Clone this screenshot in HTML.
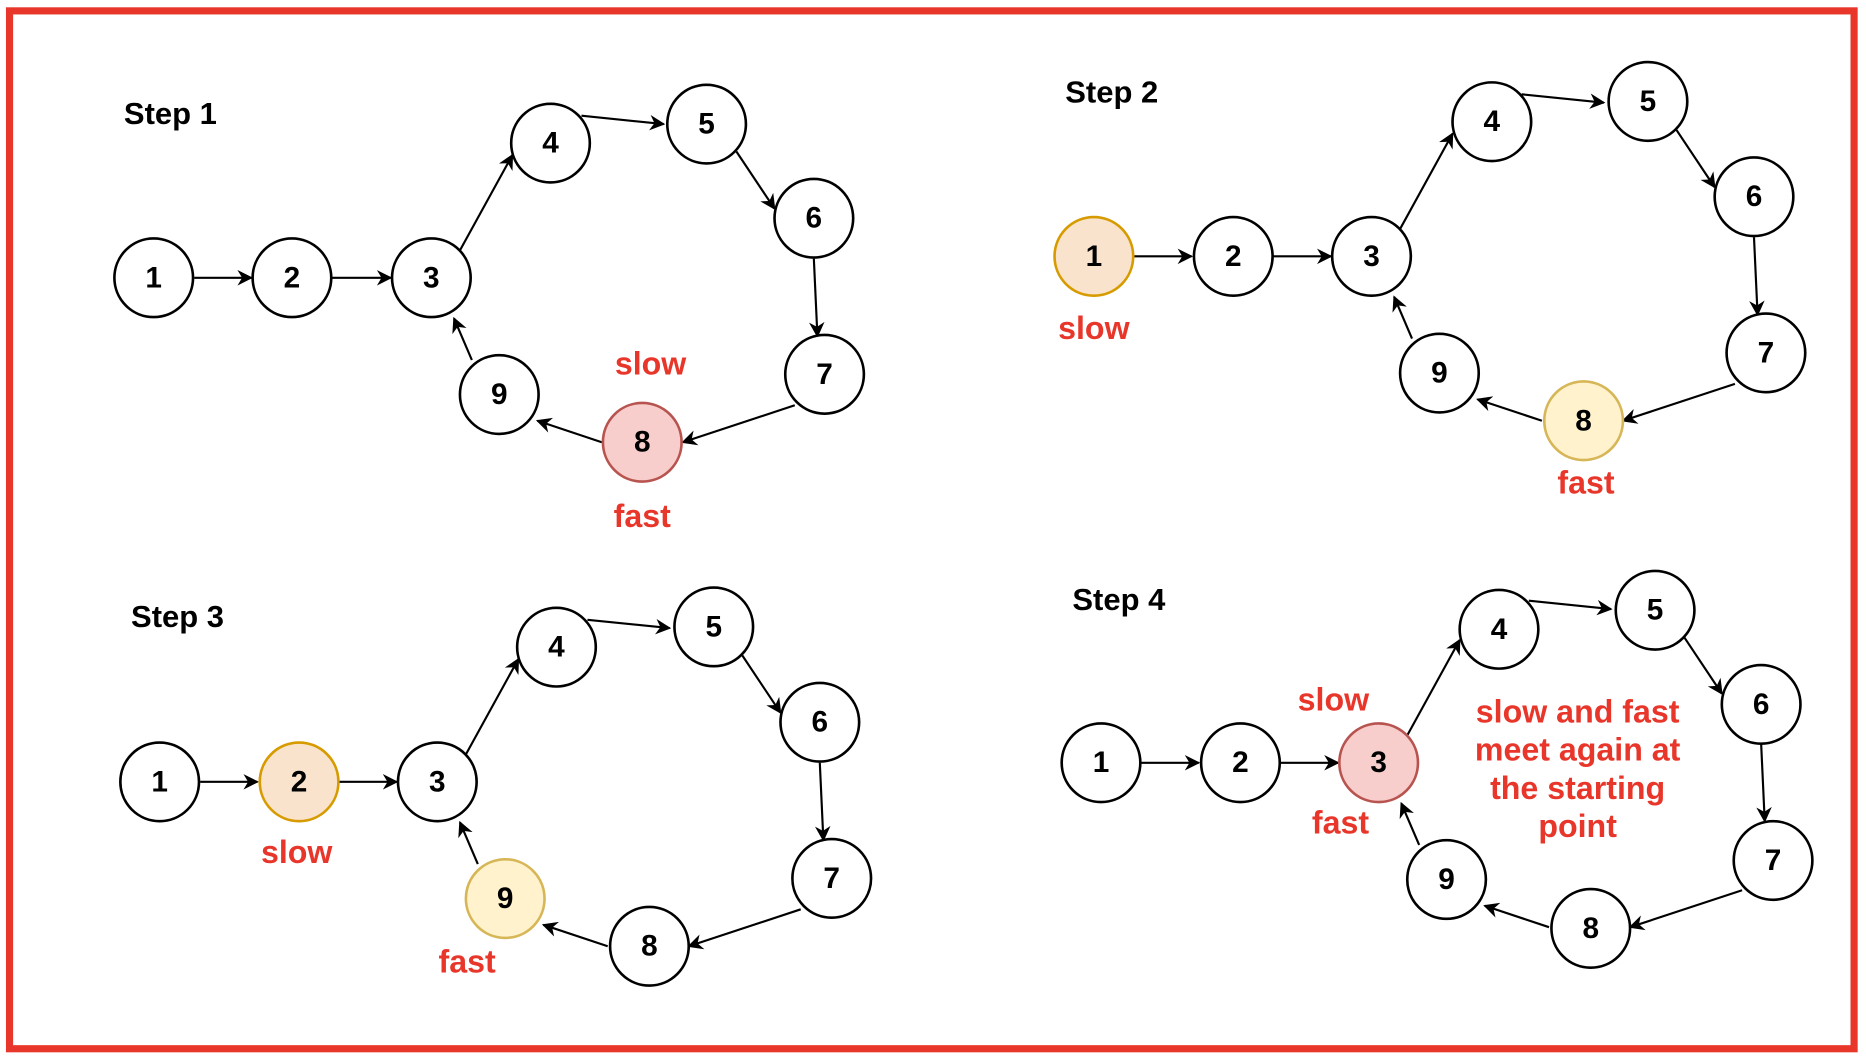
<!DOCTYPE html>
<html><head><meta charset="utf-8"><style>
html,body{margin:0;padding:0;background:#fff;width:1866px;height:1062px;overflow:hidden}
svg{display:block}
text{font-family:"Liberation Sans",Arial,sans-serif;font-weight:bold}
.n{font-size:25px;text-anchor:middle;dominant-baseline:central;fill:#000}
.t{font-size:26px;fill:#000}
.r{font-size:27px;fill:#e8362a;text-anchor:middle;dominant-baseline:central}
circle{stroke-width:2.2}
</style></head><body>
<svg id="s" width="1866" height="1062" viewBox="0 0 1566 891">
<defs><marker id="a" viewBox="0 0 10 10" refX="9" refY="5" markerWidth="13" markerHeight="13" markerUnits="userSpaceOnUse" orient="auto"><path d="M0,0 L10,5 L0,10 L3,5 z" fill="#000"/></marker></defs>
<rect x="8" y="9" width="1548" height="871" fill="#fff" stroke="#e8362a" stroke-width="6"/>
<g id="edges" stroke="#000" stroke-width="1.8" fill="none"></g>
<g id="nodes" stroke="#000" fill="#fff">
<circle cx="129" cy="233" r="33"/><circle cx="245" cy="233" r="33"/><circle cx="362" cy="233" r="33"/><circle cx="462" cy="120" r="33"/><circle cx="593" cy="104" r="33"/><circle cx="683" cy="183" r="33"/><circle cx="692" cy="314" r="33"/><circle cx="539" cy="371" r="33" fill="#f8cecc" stroke="#b85450"/><circle cx="419" cy="331" r="33"/>
<circle cx="918" cy="215" r="33" fill="#fae3cc" stroke="#d79b00"/><circle cx="1035" cy="215" r="33"/><circle cx="1151" cy="215" r="33"/><circle cx="1252" cy="102" r="33"/><circle cx="1383" cy="85" r="33"/><circle cx="1472" cy="165" r="33"/><circle cx="1482" cy="296" r="33"/><circle cx="1329" cy="353" r="33" fill="#fff2cc" stroke="#d6b656"/><circle cx="1208" cy="313" r="33"/>
<circle cx="134" cy="656" r="33"/><circle cx="251" cy="656" r="33" fill="#fae3cc" stroke="#d79b00"/><circle cx="367" cy="656" r="33"/><circle cx="467" cy="543" r="33"/><circle cx="599" cy="526" r="33"/><circle cx="688" cy="606" r="33"/><circle cx="698" cy="737" r="33"/><circle cx="545" cy="794" r="33"/><circle cx="424" cy="754" r="33" fill="#fff2cc" stroke="#d6b656"/>
<circle cx="924" cy="640" r="33"/><circle cx="1041" cy="640" r="33"/><circle cx="1157" cy="640" r="33" fill="#f8cecc" stroke="#b85450"/><circle cx="1258" cy="528" r="33"/><circle cx="1389" cy="512" r="33"/><circle cx="1478" cy="591" r="33"/><circle cx="1488" cy="722" r="33"/><circle cx="1335" cy="779" r="33"/><circle cx="1214" cy="738" r="33"/>
</g>
<g>
<text class="n" x="129" y="233">1</text><text class="n" x="245" y="233">2</text><text class="n" x="362" y="233">3</text><text class="n" x="462" y="120">4</text><text class="n" x="593" y="104">5</text><text class="n" x="683" y="183">6</text><text class="n" x="692" y="314">7</text><text class="n" x="539" y="371">8</text><text class="n" x="419" y="331">9</text>
<text class="n" x="918" y="215">1</text><text class="n" x="1035" y="215">2</text><text class="n" x="1151" y="215">3</text><text class="n" x="1252" y="102">4</text><text class="n" x="1383" y="85">5</text><text class="n" x="1472" y="165">6</text><text class="n" x="1482" y="296">7</text><text class="n" x="1329" y="353">8</text><text class="n" x="1208" y="313">9</text>
<text class="n" x="134" y="656">1</text><text class="n" x="251" y="656">2</text><text class="n" x="367" y="656">3</text><text class="n" x="467" y="543">4</text><text class="n" x="599" y="526">5</text><text class="n" x="688" y="606">6</text><text class="n" x="698" y="737">7</text><text class="n" x="545" y="794">8</text><text class="n" x="424" y="754">9</text>
<text class="n" x="924" y="640">1</text><text class="n" x="1041" y="640">2</text><text class="n" x="1157" y="640">3</text><text class="n" x="1258" y="528">4</text><text class="n" x="1389" y="512">5</text><text class="n" x="1478" y="591">6</text><text class="n" x="1488" y="722">7</text><text class="n" x="1335" y="779">8</text><text class="n" x="1214" y="738">9</text>
<text class="t" x="104" y="104">Step 1</text>
<text class="t" x="894" y="86">Step 2</text>
<text class="t" x="110" y="526">Step 3</text>
<text class="t" x="900" y="512">Step 4</text>
<text class="r" x="546" y="305">slow</text><text class="r" x="539" y="433">fast</text>
<text class="r" x="918" y="275">slow</text><text class="r" x="1331" y="405">fast</text>
<text class="r" x="249" y="715">slow</text><text class="r" x="392" y="807">fast</text>
<text class="r" x="1119" y="587">slow</text><text class="r" x="1125" y="690">fast</text>
<text class="r" x="1324" y="597">slow and fast</text>
<text class="r" x="1324" y="629">meet again at</text>
<text class="r" x="1324" y="661">the starting</text>
<text class="r" x="1324" y="693">point</text>
</g>
</svg>
<script>
var base=[[163,233,211,233],[279,233,328,233],[386,210,430,130],[488,97,557,104],[618,127,650,175],[683,217,686,282],[667,340,573,371],[505,371,451,353],[396,302,381,267]];
var offs=[[0,0],[789,-18],[5,423],[795,407]];
var g=document.getElementById('edges'),ns='http://www.w3.org/2000/svg';
offs.forEach(function(o){
 base.forEach(function(e){
  var l=document.createElementNS(ns,'line');
  l.setAttribute('x1',e[0]+o[0]);l.setAttribute('y1',e[1]+o[1]);
  l.setAttribute('x2',e[2]+o[0]);l.setAttribute('y2',e[3]+o[1]);
  l.setAttribute('marker-end','url(#a)');g.appendChild(l);
 });
});
</script>
</body></html>
